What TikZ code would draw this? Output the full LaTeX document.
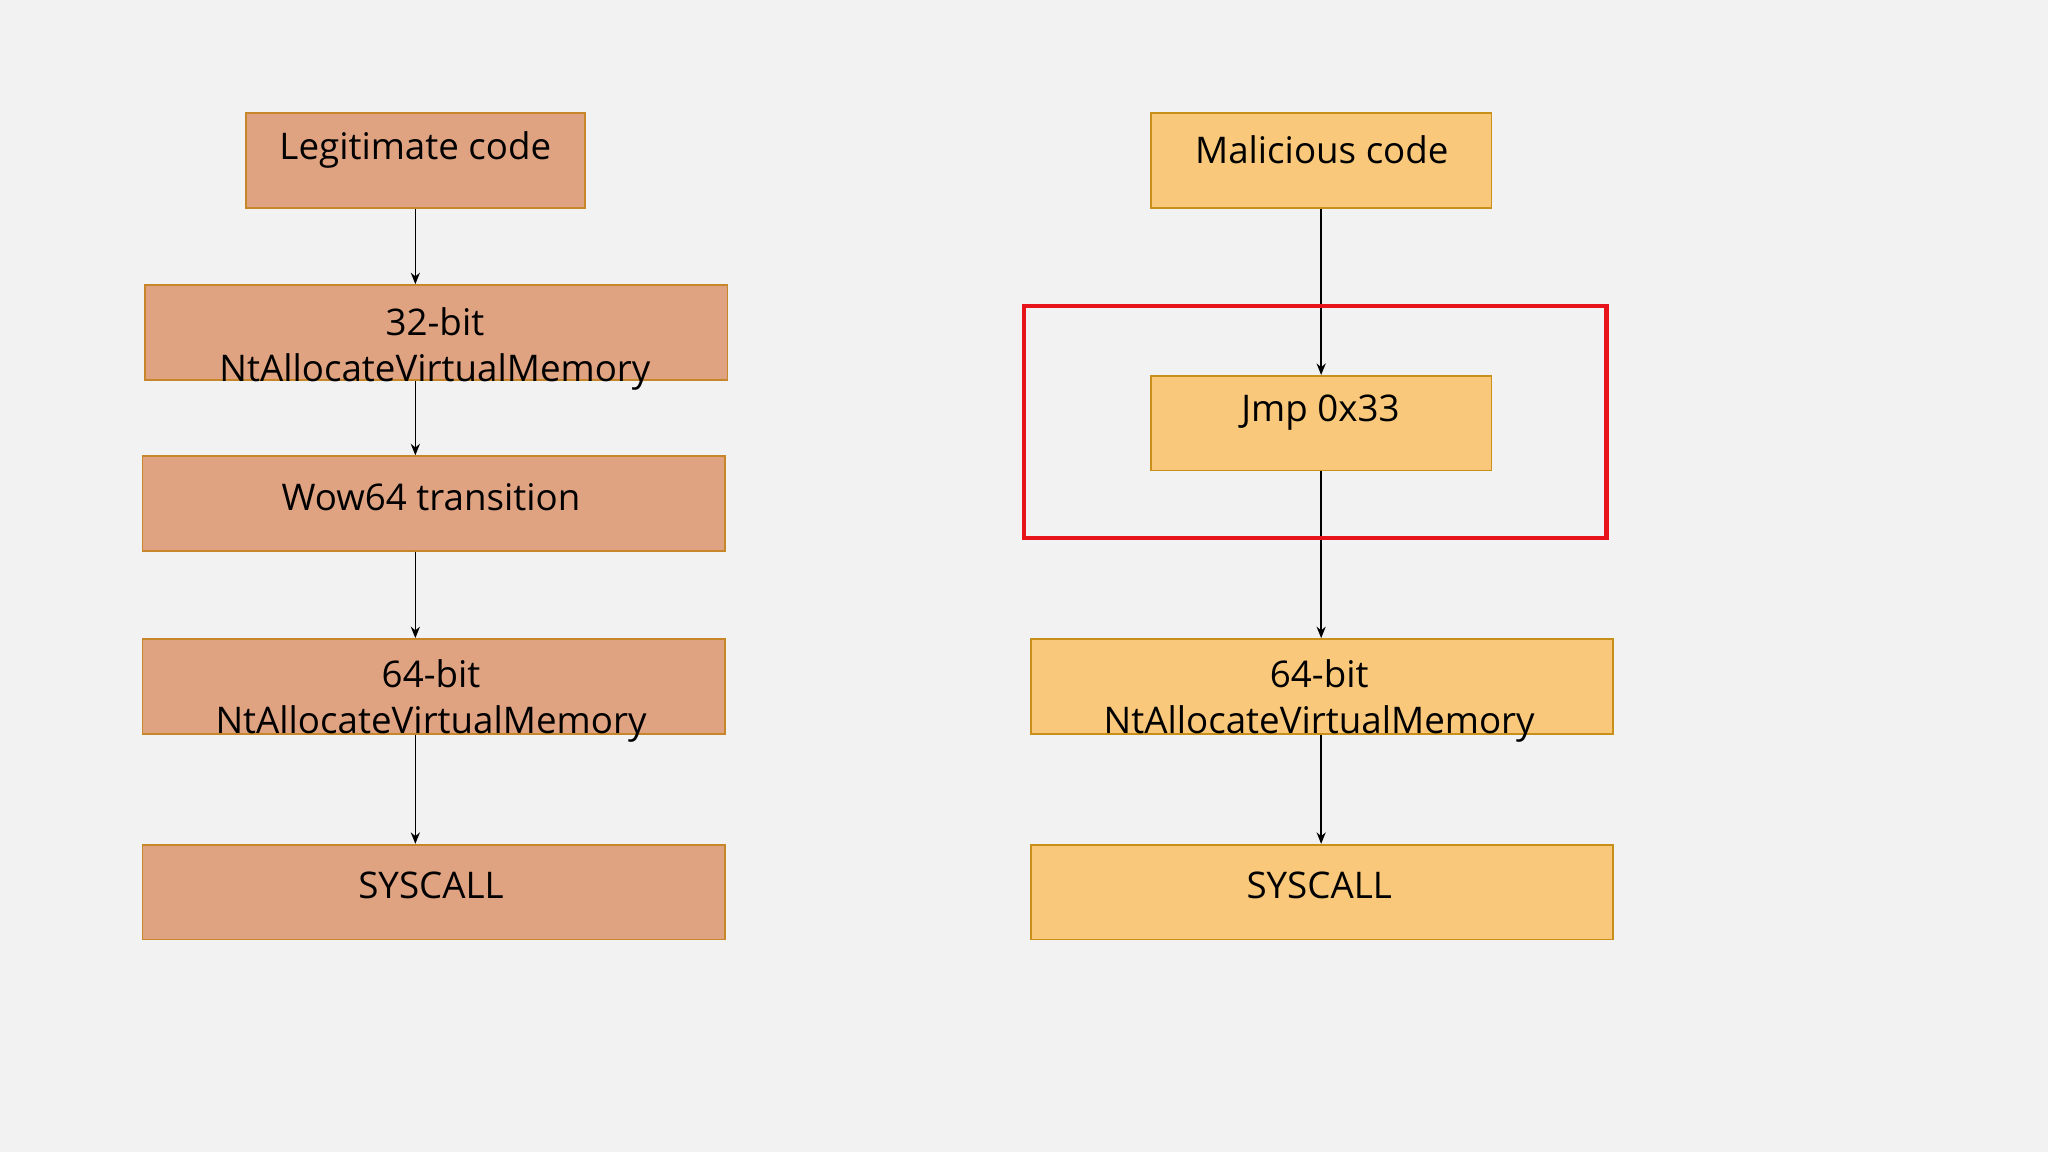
\documentclass[tikz,border=0pt]{standalone}
\usetikzlibrary{arrows.meta}
\usepackage{fontspec}
\setmainfont{Open Sans}
\definecolor{bg}{HTML}{F2F2F3}
\definecolor{lfill}{HTML}{E0A382}
\definecolor{lline}{HTML}{C8862A}
\definecolor{rfill}{HTML}{F9C87A}
\definecolor{rline}{HTML}{C8901A}
\definecolor{redbox}{HTML}{E8141C}
\begin{document}
\begin{tikzpicture}[x=0.02cm,y=-0.02cm,
  box/.style={draw,line width=0.8pt,minimum height=1.45cm,inner sep=0pt},
  lbox/.style={box,fill=lfill,draw=lline},
  rbox/.style={box,fill=rfill,draw=rline},
  txt/.style={font=\fontsize{16}{20}\selectfont,align=center,inner sep=0pt},
  arr/.style={-{Stealth[length=5pt,width=4pt]},line width=0.6pt}]
\fill[bg] (0,0) rectangle (1568,882);
\useasboundingbox (0,0) rectangle (1568,882);
% left column
\node[lbox,minimum width=5.2cm] (legit) at (318,123) {};
\node[lbox,minimum width=8.92cm] (b32) at (334,254.5) {};
\node[lbox,minimum width=8.92cm] (wow) at (332,385.5) {};
\node[lbox,minimum width=8.92cm] (l64) at (332,525.5) {};
\node[lbox,minimum width=8.92cm] (lsys) at (332,683) {};
% right column
\node[rbox,minimum width=5.22cm] (mal) at (1011.5,123) {};
\node[rbox,minimum width=5.22cm] (jmp) at (1011.5,324) {};
\node[rbox,minimum width=8.92cm] (r64) at (1012,525.5) {};
\node[rbox,minimum width=8.92cm] (rsys) at (1012,683) {};
% arrows
\draw[arr] (legit.south) -- (b32.north -| legit.south);
\draw[arr] (b32.south -| legit.south) -- (wow.north -| legit.south);
\draw[arr] (wow.south -| legit.south) -- (l64.north -| legit.south);
\draw[arr] (l64.south -| legit.south) -- (lsys.north -| legit.south);
\draw[arr] (mal.south) -- (jmp.north);
\draw[arr] (jmp.south) -- (r64.north -| jmp.south);
\draw[arr] (r64.south -| jmp.south) -- (rsys.north -| jmp.south);
% texts
\node[txt] (t1) at (318,115) {Legitimate code};
\node[txt] (t2) at (333,267) {32-bit\\NtAllocateVirtualMemory};
\node[txt] (t3) at (330,381) {Wow64 transition};
\node[txt] (t4) at (330,537) {64-bit\\NtAllocateVirtualMemory};
\node[txt] (t5) at (330,678) {SYSCALL};
\node[txt] (t6) at (1012,115) {Malicious code};
\node[txt] (t7) at (1011,316) {Jmp 0x33};
\node[txt] (t8) at (1010,537) {64-bit\\NtAllocateVirtualMemory};
\node[txt] (t9) at (1010,678) {SYSCALL};
% red highlight
\draw[redbox,line width=1.8pt] (784,234) rectangle (1230,412);
\end{tikzpicture}
\end{document}
